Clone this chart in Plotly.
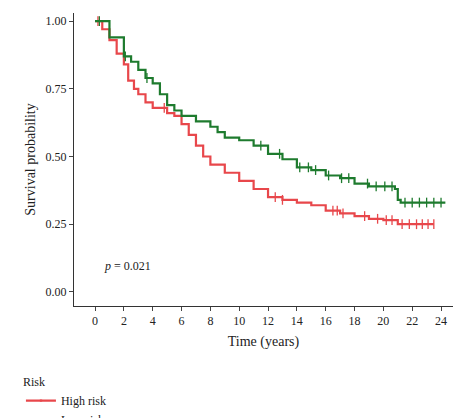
import plotly.graph_objects as go
import numpy as np

high_t = [0, 0.5, 1, 1.5, 2, 2.3, 2.7, 3, 3.5, 4, 5, 5.5, 6, 6.5, 7, 7.5, 8, 9, 10, 11, 12, 13, 14, 15, 16, 17, 18, 19, 20, 21, 23.5]
high_s = [1.0, 0.97, 0.93, 0.88, 0.84, 0.78, 0.75, 0.73, 0.70, 0.68, 0.66, 0.65, 0.62, 0.58, 0.54, 0.50, 0.47, 0.44, 0.41, 0.38, 0.35, 0.34, 0.33, 0.32, 0.30, 0.29, 0.28, 0.27, 0.265, 0.25, 0.25]
low_t = [0, 1, 2, 2.5, 3, 3.5, 4, 4.5, 5, 5.5, 6, 7, 8, 8.5, 9, 10, 11, 12, 13, 14, 15, 16, 17, 18, 19, 20.8, 21, 21.2, 24.3]
low_s = [1.0, 0.94, 0.87, 0.85, 0.82, 0.79, 0.77, 0.73, 0.69, 0.67, 0.65, 0.63, 0.61, 0.59, 0.57, 0.56, 0.54, 0.51, 0.49, 0.46, 0.45, 0.43, 0.42, 0.40, 0.39, 0.38, 0.34, 0.33, 0.33]
high_cens = [0.2, 4.8, 12.5, 13.0, 16.5, 16.8, 17.2, 18.7, 19.6, 20.2, 20.6, 21.3, 21.8, 22.3, 22.7, 23.1, 23.5]
low_cens = [0.3, 2.1, 3.6, 11.5, 12.8, 14.2, 14.8, 15.3, 16.2, 17.1, 17.6, 18.9, 19.5, 20.1, 20.6, 21.5, 22.0, 22.5, 23.0, 23.5, 24.0]
x_ticks = [0, 2, 4, 6, 8, 10, 12, 14, 16, 18, 20, 22, 24]
y_ticks = [0, 0.25, 0.5, 0.75, 1.0]

RED = "#E8474B"
GREEN = "#1E7B2E"

def step(ts, ss, q):
    idx = np.searchsorted(ts, q, side="right") - 1
    return [ss[i] for i in idx]

fig = go.Figure()
for name, t, s, c, col in [("High risk", high_t, high_s, high_cens, RED),
                           ("Low risk", low_t, low_s, low_cens, GREEN)]:
    fig.add_trace(go.Scatter(x=t, y=s, mode="lines+markers", line=dict(color=col, width=2.2, shape="hv"),
                             marker=dict(symbol="cross-thin", size=[0]*len(t), line=dict(color=col, width=1.5)),
                             name=name))
    fig.add_trace(go.Scatter(x=c, y=step(t, s, c), mode="markers", showlegend=False,
                             marker=dict(symbol="line-ns", size=7, line=dict(color=col, width=1.3))))

font = dict(family="Liberation Serif", size=12, color="#222")
fig.update_layout(
    width=474, height=418, margin=dict(l=66, r=29, t=5, b=120, autoexpand=False),
    plot_bgcolor="white", paper_bgcolor="white", font=font,
    xaxis=dict(range=[-1.46, 24.83], tickvals=x_ticks, ticks="outside", ticklen=4, showgrid=False,
               zeroline=False, showline=True, linecolor="#333", automargin=False,
               title=dict(text="Time (years)", standoff=8)),
    yaxis=dict(range=[-0.052, 1.03], tickvals=y_ticks, tickformat=".2f", ticks="outside", ticklen=4,
               showgrid=False, zeroline=False, showline=True, linecolor="#333", automargin=False,
               title=dict(text="Survival probability", standoff=6)),
    legend=dict(x=-0.14, y=-0.22, xanchor="left", yanchor="top",
                title=dict(text="Risk", side="top", font=font),
                tracegroupgap=0, font=font),
    annotations=[dict(x=0.5, y=0.095, xref="x", yref="y", xanchor="left", showarrow=False,
                      text="<i>p</i> = 0.021", font=font)],
)
fig.write_html("out.html")
